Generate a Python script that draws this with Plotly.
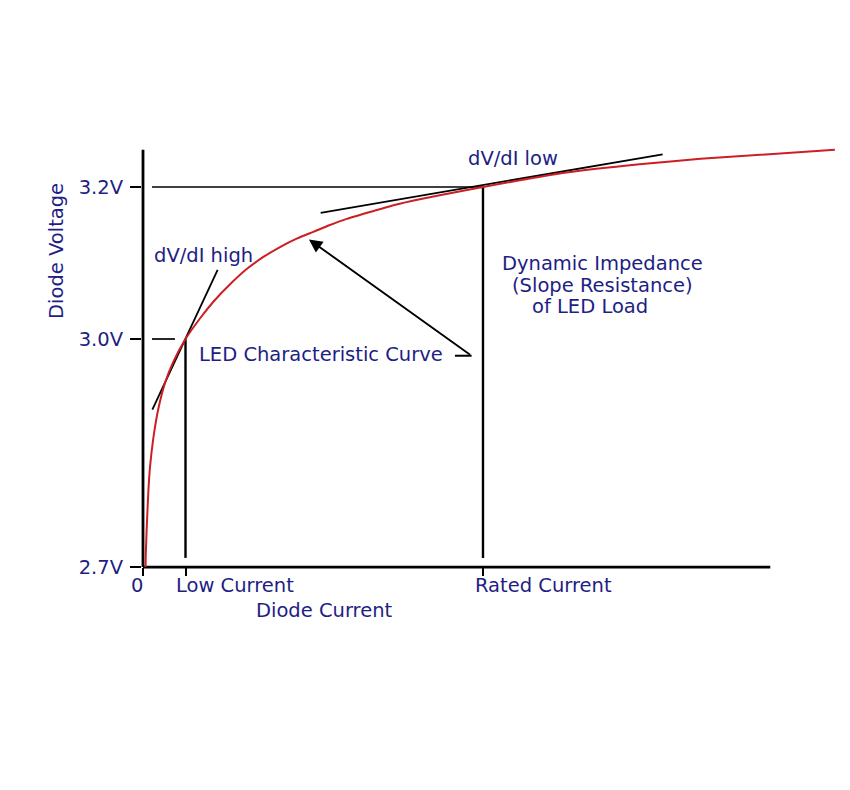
import plotly.graph_objects as go

# ---- data (diode current in mA, diode voltage in V) ----
curve_I = [0.15, 0.16, 0.22, 0.31, 0.41, 0.61, 0.90, 1.29, 1.78, 2.5, 3.35, 4.14, 5.12, 6.10, 7.08,
           8.06, 9.04, 10.02, 11.0, 11.98, 15.1, 20.0, 24.9, 29.2, 32.8, 40.7]
curve_V = [2.700, 2.714, 2.752, 2.797, 2.831, 2.870, 2.908, 2.942, 2.970, 3.000, 3.027, 3.049, 3.072,
           3.092, 3.108, 3.121, 3.132, 3.141, 3.150, 3.158, 3.178, 3.200, 3.219, 3.230, 3.237, 3.249]

low_current = 2.5
rated_current = 20.0
low_voltage = 3.0
rated_voltage = 3.2

tangent_high_I = [0.55, 4.39]
tangent_high_V = [2.907, 3.091]
tangent_low_I = [10.45, 30.57]
tangent_low_V = [3.166, 3.243]

ytick_vals = [2.7, 3.0, 3.2]
ytick_text = ["2.7V", "3.0V", "3.2V"]
xtick_vals = [0, low_current, rated_current]
xtick_text = ["0", "Low Current", "Rated Current"]

FONT = "DejaVu Sans"
TXT = "#1e1e84"
FS = 19.5

X_RANGE = [-0.765, 41.59]
Y_RANGE = [2.6882, 3.4355]

fig = go.Figure()

def line(xs, ys, color="black", width=2.0):
    fig.add_trace(go.Scatter(x=xs, y=ys, mode="lines", line=dict(color=color, width=width),
                             hoverinfo="skip", showlegend=False))

# axes lines
line([0, 0], [2.7, 3.249], width=2.8)
line([0, 36.9], [2.7, 2.7], width=2.8)

# reference lines
line([0.53, rated_current], [rated_voltage, rated_voltage], width=1.7)
line([0.53, 1.88], [low_voltage, low_voltage], width=1.7)
line([low_current, low_current], [low_voltage, 2.712], width=2.4)
line([rated_current, rated_current], [rated_voltage, 2.712], width=2.4)

# tangents
line(tangent_high_I, tangent_high_V, width=1.8)
line(tangent_low_I, tangent_low_V, width=1.8)

# characteristic curve
fig.add_trace(go.Scatter(x=curve_I, y=curve_V, mode="lines",
                         line=dict(color="#cc1f24", width=2.0, shape="spline", smoothing=0.5),
                         hoverinfo="skip", showlegend=False))

# arrow tail stub
line([18.35, 19.33], [2.978, 2.978], width=2.0)

ann = []
def text(t, x, y, xanchor="left", yanchor="middle", xref="x", yref="y", **kw):
    ann.append(dict(text=t, x=x, y=y, xref=xref, yref=yref, xanchor=xanchor, yanchor=yanchor,
                    showarrow=False, font=dict(family=FONT, size=FS, color=TXT), **kw))

text("dV/dI high", 0.53, 3.1105)
text("dV/dI low", 19.0, 3.238)
text("LED Characteristic Curve", 3.18, 2.980)
text("Dynamic Impedance", 21.0, 3.100)
text("(Slope Resistance)", 21.59, 3.071)
text("of LED Load", 22.76, 3.043)
text("Diode Current", 10.65, -0.0616, xanchor="center", yref="paper")
text("Diode Voltage", -0.1014, 0.5722, xanchor="center", xref="paper", yref="paper", textangle=-90)

# x tick labels
shifts = [-6, -12, -10]
anchors = ["center", "left", "left"]
for v, t, s, a in zip(xtick_vals, xtick_text, shifts, anchors):
    text(t, v, -0.0159, xanchor=a, yref="paper", xshift=s)

# arrow
ann.append(dict(x=9.76, y=3.131, ax=19.33, ay=2.978, xref="x", yref="y", axref="x", ayref="y",
                text="", showarrow=True, arrowhead=2, arrowsize=1.4, arrowwidth=1.9, arrowcolor="black",
                standoff=0))

fig.update_layout(
    width=842, height=782,
    margin=dict(l=122, r=0, t=0, b=214),
    paper_bgcolor="white", plot_bgcolor="white",
    annotations=ann,
    xaxis=dict(range=X_RANGE, showgrid=False, zeroline=False, showline=False,
               tickvals=xtick_vals, ticks="inside", ticklen=8, tickwidth=2.2, tickcolor="black",
               showticklabels=False, fixedrange=True),
    yaxis=dict(range=Y_RANGE, showgrid=False, zeroline=False, showline=False,
               tickvals=ytick_vals, ticktext=ytick_text, ticks="inside", ticklen=11, tickwidth=1.7,
               tickcolor="black", ticklabelstandoff=6,
               tickfont=dict(family=FONT, size=FS, color=TXT), fixedrange=True),
)

fig.write_html("out.html")
